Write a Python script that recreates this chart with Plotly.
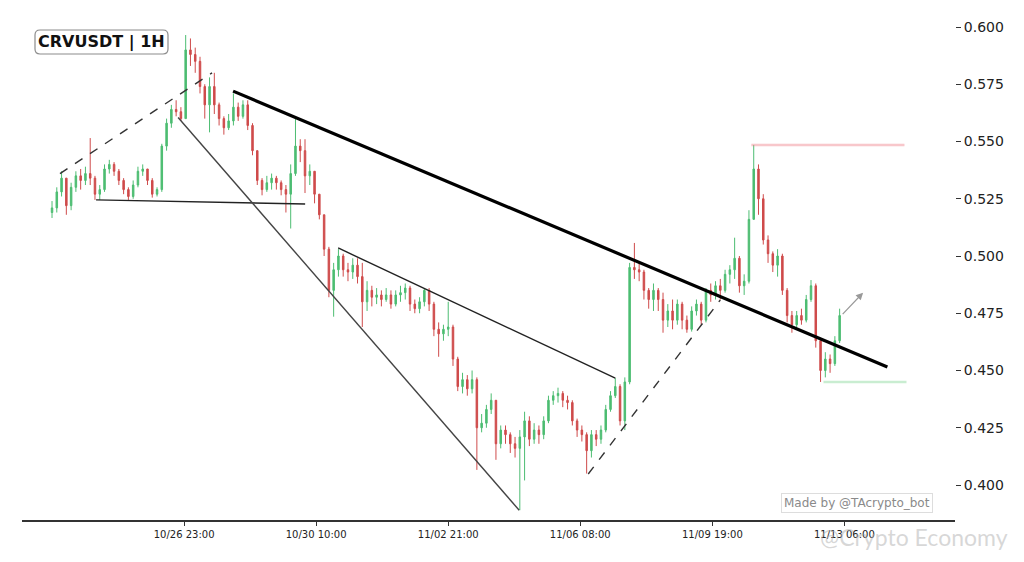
import pandas as pd
import plotly.graph_objects as go

# ---------------- data (3-hour candles) ----------------
start_time = "2023-10-23 12:00"
candle_step = "3h"
first_open = 0.519

close = [0.521, 0.528, 0.534, 0.522, 0.530, 0.535, 0.533, 0.536, 0.534, 0.527,
         0.529, 0.538, 0.540, 0.537, 0.533, 0.529, 0.526, 0.531, 0.537, 0.538,
         0.533, 0.527, 0.529, 0.548, 0.558, 0.564, 0.563, 0.560, 0.590, 0.588,
         0.585, 0.574, 0.566, 0.574, 0.566, 0.560, 0.556, 0.559, 0.565, 0.561,
         0.566, 0.557, 0.546, 0.533, 0.529, 0.532, 0.534, 0.532, 0.529, 0.527,
         0.536, 0.548, 0.546, 0.535, 0.537, 0.527, 0.518, 0.503, 0.485, 0.494,
         0.500, 0.494, 0.493, 0.496, 0.491, 0.480, 0.485, 0.482, 0.483, 0.481,
         0.483, 0.479, 0.483, 0.484, 0.486, 0.479, 0.477, 0.480, 0.485, 0.479,
         0.468, 0.466, 0.468, 0.469, 0.455, 0.443, 0.446, 0.442, 0.446, 0.425,
         0.427, 0.433, 0.437, 0.418, 0.424, 0.422, 0.418, 0.416, 0.421, 0.428,
         0.420, 0.424, 0.422, 0.428, 0.437, 0.439, 0.440, 0.437, 0.436, 0.428,
         0.424, 0.422, 0.415, 0.422, 0.420, 0.424, 0.433, 0.439, 0.443, 0.428,
         0.445, 0.495, 0.494, 0.493, 0.485, 0.481, 0.485, 0.481, 0.472, 0.476,
         0.472, 0.479, 0.472, 0.468, 0.476, 0.479, 0.472, 0.485, 0.483, 0.487,
         0.485, 0.492, 0.494, 0.499, 0.487, 0.489, 0.516, 0.538, 0.525, 0.507,
         0.501, 0.496, 0.500, 0.485, 0.474, 0.470, 0.474, 0.472, 0.481, 0.487,
         0.463, 0.450, 0.455, 0.453, 0.463, 0.474]

high = [0.524, 0.530, 0.537, 0.534, 0.532, 0.537, 0.538, 0.539, 0.5515, 0.535,
        0.531, 0.540, 0.542, 0.541, 0.538, 0.534, 0.530, 0.533, 0.539, 0.540,
        0.538, 0.534, 0.530, 0.549, 0.560, 0.566, 0.568, 0.565, 0.5965, 0.595,
        0.591, 0.587, 0.575, 0.578, 0.580, 0.567, 0.561, 0.562, 0.571, 0.567,
        0.568, 0.568, 0.558, 0.546, 0.534, 0.535, 0.536, 0.535, 0.533, 0.531,
        0.540, 0.560, 0.551, 0.551, 0.540, 0.533, 0.527, 0.518, 0.504, 0.497,
        0.503, 0.501, 0.497, 0.499, 0.499, 0.497, 0.489, 0.487, 0.486, 0.485,
        0.486, 0.485, 0.485, 0.487, 0.488, 0.487, 0.481, 0.482, 0.486, 0.486,
        0.480, 0.471, 0.470, 0.480, 0.470, 0.456, 0.449, 0.448, 0.450, 0.447,
        0.431, 0.435, 0.440, 0.437, 0.426, 0.426, 0.423, 0.421, 0.424, 0.432,
        0.430, 0.427, 0.426, 0.430, 0.439, 0.441, 0.4425, 0.441, 0.439, 0.437,
        0.429, 0.426, 0.423, 0.424, 0.424, 0.426, 0.435, 0.441, 0.4467, 0.444,
        0.447, 0.497, 0.5057, 0.497, 0.494, 0.486, 0.488, 0.486, 0.484, 0.479,
        0.481, 0.481, 0.480, 0.474, 0.478, 0.481, 0.480, 0.486, 0.488, 0.489,
        0.490, 0.494, 0.496, 0.508, 0.500, 0.492, 0.520, 0.5485, 0.540, 0.527,
        0.509, 0.502, 0.503, 0.501, 0.486, 0.476, 0.476, 0.477, 0.483, 0.4895,
        0.488, 0.463, 0.458, 0.457, 0.465, 0.477]

low = [0.5166, 0.519, 0.526, 0.518, 0.520, 0.528, 0.529, 0.531, 0.531, 0.5245,
       0.5245, 0.528, 0.536, 0.535, 0.531, 0.527, 0.5245, 0.525, 0.530, 0.535,
       0.531, 0.5255, 0.526, 0.528, 0.546, 0.556, 0.561, 0.559, 0.560, 0.583,
       0.580, 0.571, 0.560, 0.554, 0.562, 0.557, 0.553, 0.555, 0.557, 0.559,
       0.560, 0.555, 0.544, 0.531, 0.5265, 0.528, 0.529, 0.529, 0.5265, 0.519,
       0.512, 0.535, 0.541, 0.5275, 0.531, 0.523, 0.516, 0.500, 0.482, 0.4735,
       0.491, 0.491, 0.489, 0.490, 0.488, 0.469, 0.476, 0.478, 0.479, 0.478,
       0.480, 0.477, 0.478, 0.480, 0.481, 0.476, 0.475, 0.475, 0.478, 0.476,
       0.465, 0.456, 0.463, 0.465, 0.452, 0.441, 0.440, 0.439, 0.440, 0.4066,
       0.423, 0.425, 0.431, 0.411, 0.416, 0.418, 0.414, 0.412, 0.389, 0.402,
       0.417, 0.418, 0.418, 0.420, 0.427, 0.435, 0.436, 0.434, 0.433, 0.426,
       0.421, 0.419, 0.405, 0.412, 0.417, 0.418, 0.423, 0.432, 0.438, 0.426,
       0.424, 0.444, 0.490, 0.489, 0.481, 0.477, 0.476, 0.476, 0.4665, 0.469,
       0.468, 0.470, 0.468, 0.4665, 0.467, 0.474, 0.470, 0.471, 0.480, 0.481,
       0.481, 0.484, 0.488, 0.490, 0.484, 0.483, 0.488, 0.516, 0.518, 0.505,
       0.497, 0.493, 0.491, 0.483, 0.471, 0.4665, 0.469, 0.470, 0.471, 0.480,
       0.460, 0.445, 0.447, 0.449, 0.452, 0.462]

# trendlines: (start time, start price, end time, end price)
dashed_up_1 = ("2023-10-23 17:00", 0.536, "2023-10-27 16:36", 0.580)
flat_support = ("2023-10-24 15:40", 0.5245, "2023-10-30 03:05", 0.5227)
falling_thin_1 = ("2023-10-26 19:14", 0.5605, "2023-11-04 17:36", 0.389)
falling_thick = ("2023-10-28 05:48", 0.5720, "2023-11-14 09:00", 0.4515)
falling_thin_2 = ("2023-10-30 23:50", 0.5035, "2023-11-07 06:00", 0.4467)
dashed_up_2 = ("2023-11-06 13:00", 0.4048, "2023-11-10 00:00", 0.4808)
resistance_level = ("2023-11-10 19:30", 0.5485, "2023-11-14 19:45", 0.5485)
support_level = ("2023-11-12 16:50", 0.4450, "2023-11-14 21:00", 0.4450)
arrow_line = ("2023-11-13 04:00", 0.4740, "2023-11-13 17:45", 0.4840)

x_tick_times = ["2023-10-26 23:00", "2023-10-30 10:00", "2023-11-02 21:00",
                "2023-11-06 08:00", "2023-11-09 19:00", "2023-11-13 06:00"]
x_tick_labels = ["10/26 23:00", "10/30 10:00", "11/02 21:00",
                 "11/06 08:00", "11/09 19:00", "11/13 06:00"]
y_tick_values = [0.400, 0.425, 0.450, 0.475, 0.500, 0.525, 0.550, 0.575, 0.600]

# ---------------- figure ----------------
times = pd.date_range(start=start_time, periods=len(close), freq=candle_step)
opens = [first_open] + close[:-1]

fig = go.Figure()
fig.add_trace(go.Candlestick(
    x=times, open=opens, high=high, low=low, close=close,
    increasing=dict(line=dict(color="#4dbd72", width=1), fillcolor="#4dbd72"),
    decreasing=dict(line=dict(color="#cf4b4b", width=1), fillcolor="#cf4b4b"),
    whiskerwidth=0, showlegend=False, hoverinfo="skip",
))


def add_seg(seg, color, width, dash="solid"):
    t0, p0, t1, p1 = seg
    fig.add_trace(go.Scatter(x=[t0, t1], y=[p0, p1], mode="lines",
                             line=dict(color=color, width=width, dash=dash),
                             showlegend=False, hoverinfo="skip"))


add_seg(dashed_up_1, "#333333", 1.4, "dash")
add_seg(flat_support, "#222222", 1.4)
add_seg(falling_thin_1, "#444444", 1.4)
add_seg(falling_thin_2, "#222222", 1.4)
add_seg(dashed_up_2, "#333333", 1.4, "dash")
add_seg(falling_thick, "#000000", 3.2)
add_seg(resistance_level, "rgba(240,130,140,0.45)", 2.5)
add_seg(support_level, "rgba(120,210,140,0.4)", 2.5)

fig.add_annotation(x=arrow_line[2], y=arrow_line[3], ax=arrow_line[0], ay=arrow_line[1],
                   xref="x", yref="y", axref="x", ayref="y", text="",
                   showarrow=True, arrowhead=2, arrowsize=1.2, arrowwidth=1.2,
                   arrowcolor="#999999")

# rounded box behind the title (plot area spans 933 x 512 px)
PW, PH = 933.0, 512.0
bx0, bx1 = 13 / PW, 146 / PW
by1, by0 = 1 - 22 / PH, 1 - 46 / PH
rx, ry = 5 / PW, 5 / PH
box_path = (f"M {bx0+rx},{by1} L {bx1-rx},{by1} Q {bx1},{by1} {bx1},{by1-ry} "
            f"L {bx1},{by0+ry} Q {bx1},{by0} {bx1-rx},{by0} "
            f"L {bx0+rx},{by0} Q {bx0},{by0} {bx0},{by0+ry} "
            f"L {bx0},{by1-ry} Q {bx0},{by1} {bx0+rx},{by1} Z")
fig.add_shape(type="path", path=box_path, xref="paper", yref="paper",
              line=dict(color="#8c8c8c", width=1.2), fillcolor="white", layer="above")

fig.add_annotation(x=(bx0 + bx1) / 2, y=(by0 + by1) / 2, xref="paper", yref="paper",
                   text="<b>CRVUSDT | 1H</b>", showarrow=False,
                   font=dict(family="DejaVu Sans", size=16, color="#111111"),
                   xanchor="center", yanchor="middle")

fig.add_annotation(x=0.8947, y=0.033, xref="paper", yref="paper",
                   text="Made by @TAcrypto_bot", showarrow=False,
                   font=dict(family="DejaVu Sans", size=12, color="#8a8a8a"),
                   bgcolor="rgba(255,255,255,0.8)", bordercolor="#dddddd",
                   borderwidth=1, borderpad=2, xanchor="center", yanchor="middle")

fig.add_annotation(x=0.956, y=-0.034, xref="paper", yref="paper",
                   text="@Crypto Economy", showarrow=False,
                   font=dict(family="Lato", size=23, color="rgba(175,175,175,0.5)"),
                   xanchor="center", yanchor="middle")

# the page has an 8px body margin, so the figure is shrunk by that amount
fig.update_layout(
    width=1016, height=554,
    margin=dict(l=14, r=69, t=0, b=42),
    paper_bgcolor="white", plot_bgcolor="white",
    boxgap=0.55,
    font=dict(family="DejaVu Sans", color="#222222"),
    xaxis=dict(
        type="date", rangeslider=dict(visible=False),
        range=["2023-10-22 17:08", "2023-11-16 03:30"],
        showgrid=False, zeroline=False,
        showline=True, linecolor="#333333", linewidth=1.5,
        ticks="outside", ticklen=4, tickcolor="#333333",
        tickvals=x_tick_times, ticktext=x_tick_labels,
        tickfont=dict(family="DejaVu Sans", size=10, color="#222222"),
    ),
    yaxis=dict(
        side="right", range=[0.38472, 0.6083],
        showgrid=False, zeroline=False, showline=False,
        ticks="outside", ticklen=5, tickcolor="#333333",
        tickvals=y_tick_values, tickformat=".3f",
        tickfont=dict(family="DejaVu Sans", size=14, color="#222222"),
    ),
)

fig.write_html("out.html")
